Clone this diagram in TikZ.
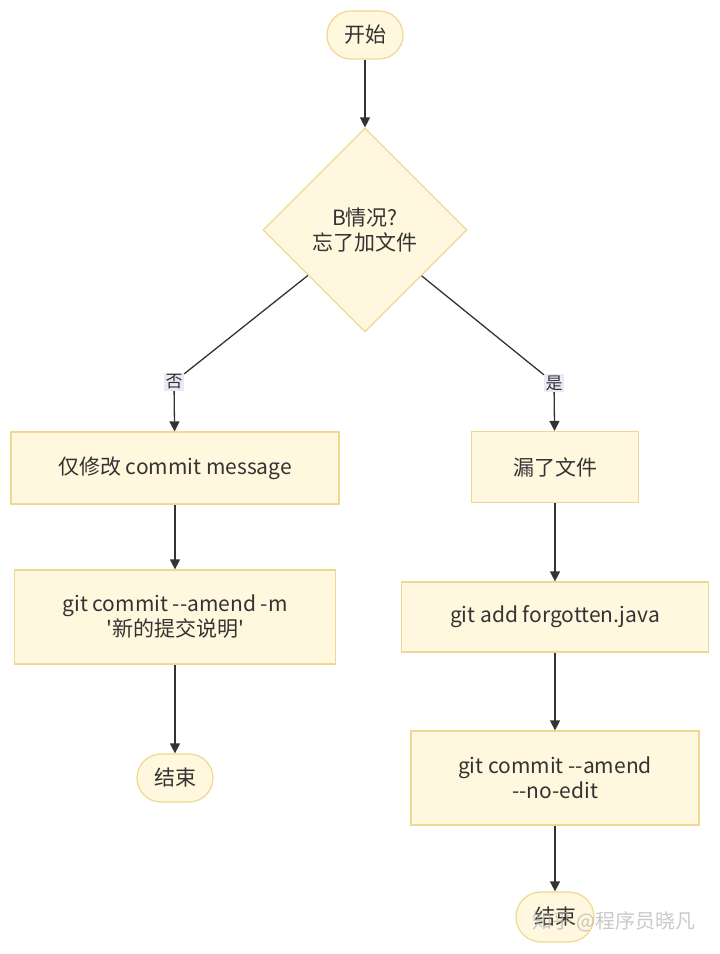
\documentclass[tikz,border=0pt]{standalone}
\usepackage{fontspec}
\usepackage{tkz-euclide}
\usetikzlibrary{shapes.geometric,arrows.meta}
\newfontfamily\cjk{Noto Sans CJK SC}
\definecolor{boxfill}{HTML}{FFF7DE}
\definecolor{boxline}{HTML}{EFD891}
\definecolor{lblfill}{HTML}{E8E8F6}
\definecolor{ink}{HTML}{333333}
\begin{document}
\begin{tikzpicture}[x=1pt,y=1pt,
  every node/.style={font=\cjk\fontsize{21}{25}\selectfont, text=ink, align=center},
  term/.style={draw=boxline, fill=boxfill, line width=1.2pt, rounded corners=24pt, minimum width=76pt, minimum height=48pt},
  act/.style={draw=boxline, fill=boxfill, line width=1.2pt, inner sep=0pt},
  ask/.style={diamond, aspect=1, draw=boxline, fill=boxfill, line width=1.2pt, minimum width=204pt, minimum height=204pt, inner sep=0pt},
  lbl/.style={fill=lblfill, font=\cjk\fontsize{17}{20}\selectfont, inner sep=1.5pt},
  flow/.style={draw=ink, line width=1.3pt, -{Triangle[length=10pt,width=10pt]}},
  link/.style={draw=ink, line width=1.3pt}]
\useasboundingbox (0,0) rectangle (720,954);

\tkzDefPoint(365,919){tS}
\tkzDefPoint(365,724){tQ}

\tkzDefPoint(174,572){tNo}
\tkzDefPoint(554,571){tYes}

  \tkzDefPoint(175,486){tM1}
  \tkzDefPoint(175,337){tM2}
  \tkzDefPoint(175,176){tE1}

  \tkzDefPoint(555,487){tF1}
  \tkzDefPoint(555,337){tF2}
  \tkzDefPoint(555,176){tF3}
  \tkzDefPoint(555,37){tE2}

\tkzDefPoint(614,32){tW}


\node[term] (S) at (tS) {开始};
\node[ask] (Q) at (tQ) {B情况?\\忘了加文件};

\node[act, minimum width=328pt, minimum height=72pt] (M1) at (tM1) {仅修改 commit message};
\node[act, minimum width=321pt, minimum height=94pt] (M2) at (tM2) {git commit --amend -m\\'新的提交说明'};
\node[term] (E1) at (tE1) {结束};

\node[act, minimum width=167pt, minimum height=71pt] (F1) at (tF1) {漏了文件};
\node[act, minimum width=307pt, minimum height=70pt] (F2) at (tF2) {git add forgotten.java};
\node[act, minimum width=288pt, minimum height=94pt] (F3) at (tF3) {git commit --amend\\--no-edit};
\node[term, minimum width=78pt, minimum height=50pt, rounded corners=25pt] (E2) at (tE2) {结束};

  \node[lbl] (No) at (tNo) {否};
  \node[lbl] (Yes) at (tYes) {是};

\draw[flow] (S) -- (Q);

\draw[link] (Q) -- (No);
\draw[flow] (No) -- (M1);
\draw[flow] (M1) -- (M2);
\draw[flow] (M2) -- (E1);

\draw[link] (Q) -- (Yes);
\draw[flow] (Yes) -- (F1);
\draw[flow] (F1) -- (F2);
\draw[flow] (F2) -- (F3);
\draw[flow] (F3) -- (E2);

\node[text=gray!60, opacity=.7, font=\cjk\fontsize{20}{22}\selectfont] (W) at (tW) {知乎 @程序员晓凡};

\end{tikzpicture}
\end{document}
